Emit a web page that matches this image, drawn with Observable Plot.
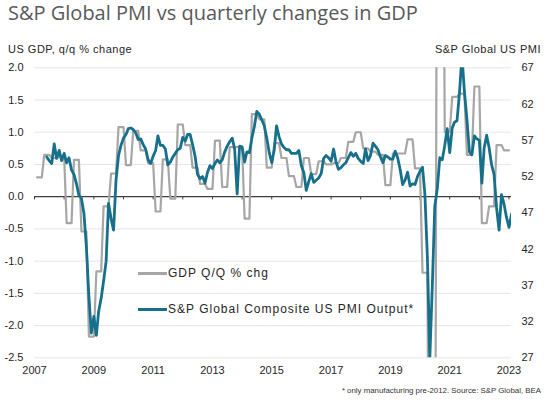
<!DOCTYPE html>
<html><head><meta charset="utf-8">
<script src="https://cdn.jsdelivr.net/npm/d3@7"></script>
<script src="https://cdn.jsdelivr.net/npm/@observablehq/plot@0.6"></script>
<style>
body{margin:0;background:#fff;}
#wrap{position:relative;width:550px;height:403px;overflow:hidden;font-family:"Liberation Sans",Arial,sans-serif;color:#262626;}
.abs{position:absolute;white-space:nowrap;}
#title{left:8px;top:-1px;font-family:"Open Sans",sans-serif;font-size:20px;color:#595959;}
#ylab{left:8px;top:43px;font-size:11px;letter-spacing:0.5px;}
#y2lab{right:9px;top:43px;font-size:11px;letter-spacing:0.5px;}
.leg{font-size:12px;letter-spacing:1px;}
.sw{position:absolute;height:3px;width:29px;}
#foot{right:9px;top:386px;font-size:7.85px;color:#333;}
</style></head><body>
<div id="wrap">
  <div id="chart"></div>
  <div class="abs" id="title">S&amp;P Global PMI vs quarterly changes in GDP</div>
  <div class="abs" id="ylab">US GDP, q/q % change</div>
  <div class="abs" id="y2lab">S&amp;P Global US PMI</div>
  <div class="sw" style="left:138px;top:272px;background:#a6a6a6;height:2.5px;"></div>
  <div class="abs leg" style="left:168px;top:266px;">GDP Q/Q % chg</div>
  <div class="sw" style="left:138px;top:307.5px;background:#17708b;"></div>
  <div class="abs leg" style="left:168px;top:302px;">S&amp;P Global Composite US PMI Output*</div>
  <div class="abs" id="foot">* only manufacturing pre-2012. Source: S&amp;P Global, BEA</div>
</div>
<script>
// US GDP, q/q % change, quarterly from 2007 Q1 to 2022 Q4
const gdpStartYear = 2007;
const gdpQuarterly = [
  0.30, 0.65, 0.60, 0.62,
  -0.41, 0.57, -0.54, -2.17,
  -1.16, -0.15, 0.36, 1.08,
  0.49, 1.02, 0.72, 0.52,
  -0.23, 0.58, -0.03, 1.12,
  0.80, 0.45, 0.20, 0.12,
  0.87, 0.15, 0.77, 0.77,
  -0.34, 1.28, 1.20, 0.45,
  0.83, 0.60, 0.32, 0.15,
  0.60, 0.35, 0.55, 0.50,
  0.52, 0.60, 0.85, 1.00,
  0.75, 0.70, 0.65, 0.18,
  0.67, 0.67, 0.89, 0.44,
  -1.18, -7.90, 7.50, 1.00,
  1.55, 1.60, 0.65, 1.71,
  -0.41, -0.15, 0.80, 0.72
];
// S&P Global US PMI (manufacturing pre-2012), monthly from May 2007 to Jan 2023
const pmiStart = [2007, 4]; // May 2007 (month index 4)
const pmiMonthly = [
  54.7, 54.2, 53.8, 56.5, 54.5, 55.6, 54.2, 55.2,
  53.9, 54.6, 52.9, 52.3, 51.0, 49.4, 49.0, 46.9, 42.3, 35.5, 30.4, 32.7,
  30.1, 33.4, 35.2, 37.6, 40.3, 48.3, 46.2, 44.6, 51.5, 54.9, 56.3, 57.3,
  57.8, 58.6, 58.7, 58.5, 58.0, 57.1, 57.2, 56.4, 55.8, 54.3, 53.8, 54.8,
  55.6, 57.6, 56.3, 56.3, 55.8, 53.6, 54.0, 54.7, 55.2, 55.7, 55.9, 57.4,
  56.9, 57.8, 57.8, 56.4, 54.8, 52.3, 51.7, 52.0, 51.1, 52.6, 53.5, 53.1,
  53.8, 54.3, 53.9, 54.3, 55.4, 56.2, 56.8, 57.3, 55.8, 49.6, 56.2, 56.1,
  54.0, 55.4, 55.3, 57.3, 58.9, 61.0, 60.6, 59.8, 59.0, 57.3, 55.3, 53.9,
  55.7, 59.0, 57.5, 56.5, 56.0, 55.7, 55.7, 55.2, 55.2, 55.2, 55.6, 53.5,
  52.5, 50.1, 51.3, 52.4, 51.2, 51.5, 51.8, 52.4, 54.5, 54.9, 54.6, 54.1,
  55.8, 54.1, 53.0, 53.2, 53.6, 53.9, 54.6, 55.3, 54.8, 55.2, 54.5, 54.1,
  53.8, 55.8, 54.2, 54.9, 56.6, 56.2, 55.7, 54.7, 53.9, 54.9, 54.7, 54.4,
  54.4, 55.5, 54.6, 53.0, 50.9, 51.5, 52.6, 50.7, 51.0, 50.9, 52.0, 52.7,
  53.3, 49.6, 40.9, 27.0, 37.0, 47.9, 50.3, 54.6, 54.3, 56.3, 58.6, 55.3,
  58.7, 59.5, 59.7, 63.5, 68.7, 63.7, 59.9, 55.4, 55.0, 57.6, 57.2, 57.0,
  51.1, 55.9, 57.7, 56.0, 53.6, 52.3, 47.7, 44.6, 49.5, 48.2, 46.4, 45.0,
  46.8
];
const gdpTicks = [-2.5, -2.0, -1.5, -1.0, -0.5, 0.0, 0.5, 1.0, 1.5, 2.0];
const pmiTicks = [27, 32, 37, 42, 47, 52, 57, 62, 67];
const yearLabels = [2007, 2009, 2011, 2013, 2015, 2017, 2019, 2021, 2023];
const yearTicks = d3.range(2007, 2024);

// dual axis alignment: PMI 67 <-> GDP 2.0, PMI 27 <-> GDP -2.5
const toG = p => (p - 27) / (67 - 27) * (2.0 - (-2.5)) + (-2.5);
const fromG = g => (g + 2.5) / 4.5 * 40 + 27;

// monthly points placed at month end (start of next month)
const gdpData = [];
gdpQuarterly.forEach((v, q) => {
  for (let k = 0; k < 3; k++) {
    const mi = q * 3 + k;
    gdpData.push({date: new Date(Date.UTC(gdpStartYear, mi + 1, 1)), v});
  }
});
const pmiData = pmiMonthly.map((p, i) => ({date: new Date(Date.UTC(pmiStart[0], pmiStart[1] + i + 1, 1)), g: toG(p)}));

const chart = Plot.plot({
  width: 550, height: 403,
  marginTop: 67.3, marginBottom: 45.7, marginLeft: 34, marginRight: 39,
  style: {fontFamily: "Liberation Sans, Arial, sans-serif", fontSize: "11px", color: "#262626", background: "transparent"},
  x: {type: "utc", domain: [new Date(Date.UTC(2007, 0, 1)), new Date(Date.UTC(2023, 1, 1))]},
  y: {domain: [-2.5, 2.0]},
  marks: [
    Plot.gridY(gdpTicks, {stroke: "#e0e0e0", strokeOpacity: 1, strokeWidth: 0.8}),
    Plot.axisY(gdpTicks, {anchor: "left", tickSize: 0, tickPadding: 11, tickFormat: d => d.toFixed(1), label: null}),
    Plot.axisY(pmiTicks.map(toG), {anchor: "right", tickSize: 0, tickPadding: 10, tickFormat: d => String(Math.round(fromG(d))), label: null}),
    Plot.axisX(yearLabels.map(y => new Date(Date.UTC(y, 0, 1))), {anchor: "bottom", tickSize: 0, tickPadding: 8, tickFormat: d => String(d.getUTCFullYear()), label: null}),
    Plot.ruleY([0], {stroke: "#404040", strokeWidth: 1.3}),
    Plot.ruleX(yearTicks.map(y => new Date(Date.UTC(y, 0, 1))), {y1: 0, y2: -0.05, stroke: "#404040", strokeWidth: 1}),
    Plot.line(gdpData, {x: "date", y: "v", stroke: "#a6a6a6", strokeWidth: 2.2, clip: true}),
    Plot.line(pmiData, {x: "date", y: "g", stroke: "#17708b", strokeWidth: 2.8, clip: true})
  ]
});
chart.style.position = "absolute";
chart.style.left = "0px";
chart.style.top = "0px";
document.getElementById("chart").appendChild(chart);
</script>
</body></html>
